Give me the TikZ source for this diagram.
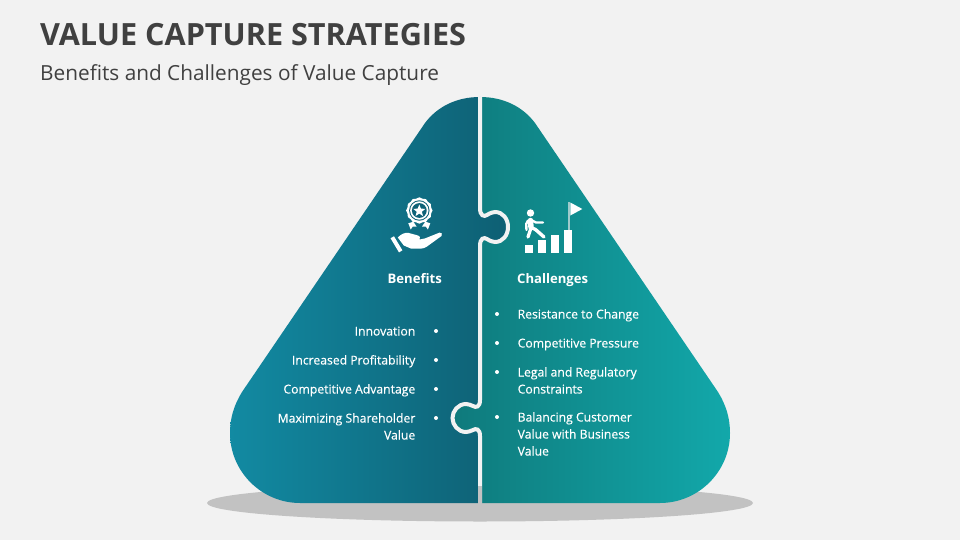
\documentclass[tikz,border=0pt]{standalone}
\usepackage{fontspec}
\setmainfont{Open Sans}
\newfontfamily\semibodyfont[FakeBold=0.35]{Open Sans}
\usetikzlibrary{shapes.geometric}
\definecolor{pagebg}{HTML}{F2F2F2}
\definecolor{ink}{HTML}{404040}
\definecolor{shadowc}{HTML}{C2C2C2}
\definecolor{lefta}{HTML}{128AA2}
\definecolor{leftb}{HTML}{0E5F73}
\definecolor{righta}{HTML}{0F7A7C}
\definecolor{rightb}{HTML}{12A8AA}
\tikzset{
  divider/.style={insert path={
    (480,97) -- (480,208) .. controls (480,216) and (484,217) .. (487,215)
    .. controls (490,213) and (493,212) .. (495,212)
    .. controls (503,212) and (508,219) .. (508,227)
    .. controls (508,235) and (503,242) .. (495,242)
    .. controls (493,242) and (490,241) .. (487,239)
    .. controls (484,237) and (480,238) .. (480,246)
    -- (480,400) .. controls (480,407) and (476,408) .. (473,406)
    .. controls (471,405) and (468,404) .. (466,404)
    .. controls (458,404) and (452.5,411) .. (452.5,418)
    .. controls (452.5,425) and (458,432) .. (466,432)
    .. controls (468,432) and (471,431) .. (473,430)
    .. controls (476,428) and (480,429) .. (480,436)
    -- (480,503)}},
  bodytext/.style={text=white,font=\fontsize{12.2}{14}\selectfont\semibodyfont,inner sep=0pt},
  headtext/.style={text=white,font=\fontsize{13.1}{15}\selectfont\bfseries,inner sep=0pt},
  bulletdot/.style={circle,fill=white,inner sep=0pt,minimum size=4pt},
  icon/.style={fill=white,draw=none},
}
\begin{document}
\begin{tikzpicture}[x=1pt,y=-1pt]
\useasboundingbox (0,0) rectangle (960,540);
\fill[pagebg] (0,0) rectangle (960,540);
\node[anchor=base west,inner sep=0pt,text=ink,font=\fontsize{30.6}{36}\selectfont\bfseries] (title) at (40,45.5) {VALUE CAPTURE STRATEGIES};
\node[anchor=base west,inner sep=0pt,text=ink,font=\fontsize{20.8}{24}\selectfont] (subtitle) at (40,80.5) {Benefits and Challenges of Value Capture};
% shadow
\fill[shadowc] (480,503) ellipse [x radius=273,y radius=18.5];
% halves
\path[left color=lefta,right color=leftb,shading angle=90,divider]
  -- (300,503) .. controls (262,503) and (230,472) .. (230,433)
  .. controls (230,418) and (234,405) .. (242,392)
  -- (425,123) .. controls (437,107) and (456,97) .. (480,97) -- cycle;
\path[left color=righta,right color=rightb,shading angle=90,divider]
  -- (660,503) .. controls (698,503) and (730,472) .. (730,433)
  .. controls (730,418) and (726,405) .. (718,392)
  -- (535,123) .. controls (523,107) and (504,97) .. (480,97) -- cycle;
% gap
\draw[pagebg,line width=4pt,divider];
\fill[shadowc] (478,486) rectangle (482,503.5);
% medal
\path[fill=white] (419.3,197.3)
  \foreach \a in {15,30,...,360}{ -- ({419.3+(mod(\a,30)==0 ? 13.2 : 12.2)*sin(\a)},{210.5-(mod(\a,30)==0 ? 13.2 : 12.2)*cos(\a)}) } -- cycle;
\fill[leftb!92!lefta] (419.3,210.5) circle (10.2);
\fill[white] (419.3,210.5) circle (9.2);
\fill[leftb!92!lefta] (419.3,210.5) circle (7.4);
\path[fill=white] (419.3,204.5) -- (420.9,208.6) -- (425.3,208.9) -- (421.9,211.7) -- (423,216) -- (419.3,213.6) -- (415.6,216) -- (416.7,211.7) -- (413.3,208.9) -- (417.7,208.6) -- cycle;
\fill[icon] (408.3,223.3) -- (413.3,221.7) -- (416.7,226.7) -- (412.7,226.7) -- (410.7,229.5) -- cycle;
\fill[icon] (430.3,223.3) -- (425.3,221.7) -- (421.9,226.7) -- (425.9,226.7) -- (427.9,229.5) -- cycle;
% hand
\fill[icon] (390.5,238.2) -- (394,236.3) -- (402.4,250.3) -- (399,252.4) -- cycle;
\fill[icon] (397.8,237.5) .. controls (401,234) and (405,232.5) .. (408,232.8)
  -- (417,235.2) .. controls (420,236) and (421,238) .. (419.5,239.5) -- (425,238.4)
  -- (439.5,232.6) .. controls (441.5,232) and (443,234.5) .. (441.5,236)
  -- (427,246.5) .. controls (425,248) and (423,248.6) .. (421,248.6)
  -- (411,248.6) -- (403.8,245.5) -- cycle;
% stairs
\fill[icon] (525,244.5) rectangle (533.3,253);
\fill[icon] (538,240) rectangle (546.3,253);
\fill[icon] (551,235) rectangle (559.3,253);
\fill[icon] (564,230) rectangle (572.3,253);
\fill[white!60!righta] (567.5,202) rectangle (569.5,230);
\fill[icon] (570.3,202.5) -- (582.3,209) -- (570.3,215.5) -- cycle;
% person
\fill[icon] (530.5,213) circle (3.7);
\draw[white,line width=5.4pt,line cap=round,line join=round] (530.5,220.5) -- (531,227.5);
\draw[white,line width=3.4pt,line cap=round,line join=round] (531,227.5) -- (535.5,229.5) -- (544,237);
\draw[white,line width=3.2pt,line cap=round,line join=round] (531,228) -- (528,237);
\draw[white,line width=2.4pt,line cap=round,line join=round] (532,220.5) -- (536,222.5) -- (543,222.5);
\draw[white,line width=2.4pt,line cap=round,line join=round] (528,220.5) -- (526.2,224) -- (526.5,230);
% left text
\node[headtext,anchor=base east] (benefits) at (442,283.5) {Benefits};
\node[bodytext,anchor=base east] (l1) at (415.5,335.5) {Innovation};
\node[bodytext,anchor=base east] (l2) at (415.5,364.5) {Increased Profitability};
\node[bodytext,anchor=base east] (l3) at (415.5,393.5) {Competitive Advantage};
\node[bodytext,anchor=base east] (l4) at (415.5,422.5) {Maximizing Shareholder};
\node[bodytext,anchor=base east] (l4b) at (415.5,439.5) {Value};
\node[bulletdot] (bl1) at (436,331) {};
\node[bulletdot] (bl2) at (436,360) {};
\node[bulletdot] (bl3) at (436,389) {};
\node[bulletdot] (bl4) at (436,418) {};
% right text
\node[headtext,anchor=base west] (challenges) at (517,283.5) {Challenges};
\node[bodytext,anchor=base west] (r1) at (517.5,318.5) {Resistance to Change};
\node[bodytext,anchor=base west] (r2) at (517.5,347.5) {Competitive Pressure};
\node[bodytext,anchor=base west] (r3) at (517.5,376.5) {Legal and Regulatory};
\node[bodytext,anchor=base west] (r3b) at (517.5,393.5) {Constraints};
\node[bodytext,anchor=base west] (r4) at (517.5,421.5) {Balancing Customer};
\node[bodytext,anchor=base west] (r4b) at (517.5,438.5) {Value with Business};
\node[bodytext,anchor=base west] (r4c) at (517.5,455.5) {Value};
\node[bulletdot] (br1) at (497,314) {};
\node[bulletdot] (br2) at (497,343) {};
\node[bulletdot] (br3) at (497,372) {};
\node[bulletdot] (br4) at (497,417) {};
\end{tikzpicture}
\end{document}
